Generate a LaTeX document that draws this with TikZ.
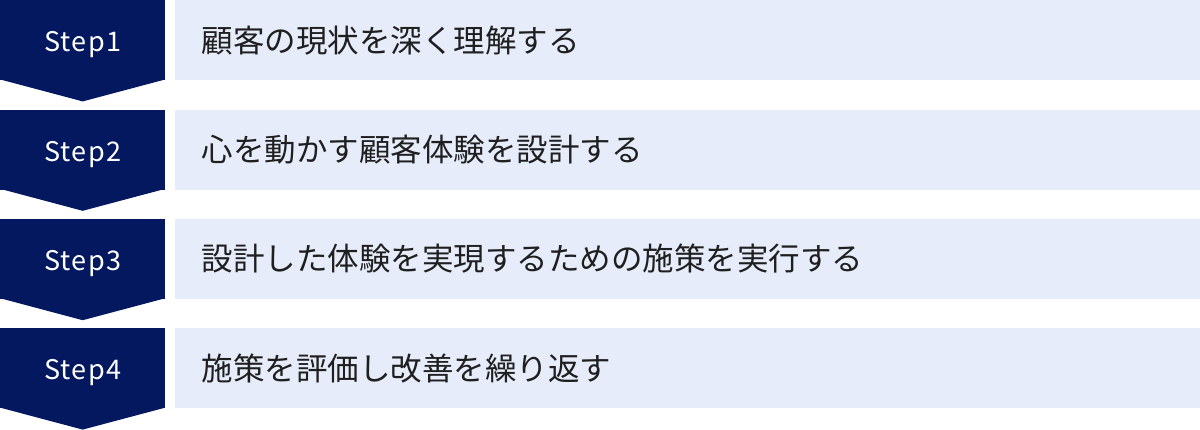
\documentclass[tikz,border=0pt]{standalone}
\usepackage{fontspec}
\setmainfont{Noto Sans CJK JP}
\usepackage{xcolor}
\usetikzlibrary{positioning}
\definecolor{navy}{RGB}{4,24,96}
\definecolor{paleblue}{RGB}{230,236,249}
\begin{document}
\begin{tikzpicture}[
    node distance=29pt and 9pt,
    stepbox/.style={rectangle, fill=navy, text=white, minimum width=165pt, minimum height=80pt, inner sep=0pt,
        text depth=0pt, font=\fontsize{27}{32}\selectfont\addfontfeature{LetterSpace=5}},
    tip/.style={fill=navy},
    textbox/.style={rectangle, fill=paleblue, text=black!88, minimum width=1026pt, minimum height=80pt,
        inner xsep=27pt, inner ysep=0pt, text width=972pt, align=left, font=\fontsize{31.5}{36}\selectfont}
]
\useasboundingbox (0,0) rectangle (1200pt,-429pt);

\node[stepbox, anchor=north west] (step1) at (0,0) {\raisebox{-3pt}{Step1}};
\node[stepbox, below=of step1] (step2) {\raisebox{-3pt}{Step2}};
\node[stepbox, below=of step2] (step3) {\raisebox{-3pt}{Step3}};
\node[stepbox, below=of step3] (step4) {\raisebox{-3pt}{Step4}};

% arrow tips below the step boxes
\fill[tip] ([yshift=1pt]step1.south west) -- ([yshift=1pt]step1.south east) -- ([yshift=-21pt]step1.south) -- cycle;
\fill[tip] ([yshift=1pt]step2.south west) -- ([yshift=1pt]step2.south east) -- ([yshift=-21pt]step2.south) -- cycle;
\fill[tip] ([yshift=1pt]step3.south west) -- ([yshift=1pt]step3.south east) -- ([yshift=-21pt]step3.south) -- cycle;
\fill[tip] ([yshift=1pt]step4.south west) -- ([yshift=1pt]step4.south east) -- ([yshift=-21pt]step4.south) -- cycle;

\node[textbox, right=of step1] (task1) {顧客の現状を深く理解する};
\node[textbox, right=of step2] (task2) {心を動かす顧客体験を設計する};
\node[textbox, right=of step3] (task3) {設計した体験を実現するための施策を実行する};
\node[textbox, right=of step4] (task4) {施策を評価し改善を繰り返す};

\end{tikzpicture}
\end{document}
